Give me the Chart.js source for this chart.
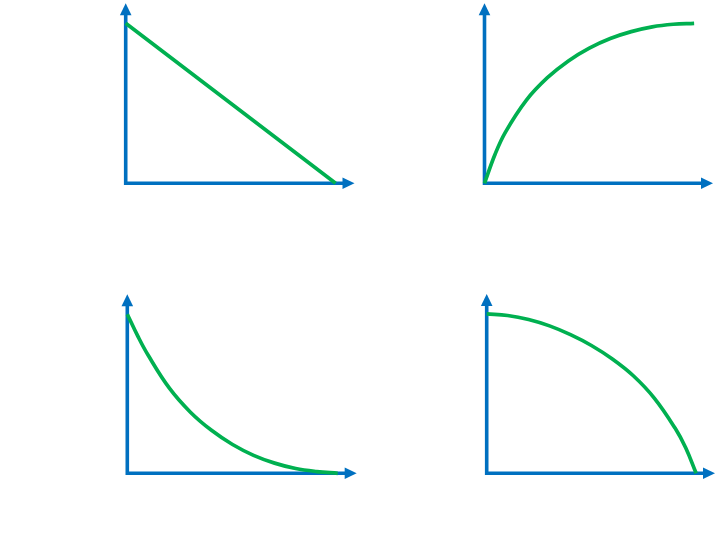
<!DOCTYPE html>
<html>
<head>
<meta charset="utf-8">
<title>Curve shapes</title>
<script src="https://cdn.jsdelivr.net/npm/chart.js@4.4.1/dist/chart.umd.min.js"></script>
<style>
  html, body { margin: 0; padding: 0; background: #ffffff; }
  #wrap { position: relative; width: 720px; height: 540px; }
  #wrap canvas { position: absolute; }
</style>
</head>
<body>
<div id="wrap">
  <canvas id="c1" width="360" height="270" style="left:0;top:0"></canvas>
  <canvas id="c2" width="360" height="270" style="left:360px;top:0"></canvas>
  <canvas id="c3" width="360" height="270" style="left:0;top:270px"></canvas>
  <canvas id="c4" width="360" height="270" style="left:360px;top:270px"></canvas>
</div>
<script>
// values (x and y both 0..1)
const linearX = [0, 1];
const linearY = [1, 0];

const riseX = [0, 0.05, 0.1, 0.2, 0.3, 0.4, 0.5, 0.6, 0.7, 0.8, 0.9, 1];
const riseY = [0, 0.18, 0.32, 0.52, 0.66, 0.765, 0.845, 0.905, 0.948, 0.978, 0.994, 1];

const fallX = [0, 0.05, 0.1, 0.2, 0.3, 0.4, 0.5, 0.6, 0.7, 0.8, 0.9, 1];
const fallY = [1, 0.862, 0.74, 0.535, 0.384, 0.27, 0.181, 0.113, 0.064, 0.03, 0.011, 0];

const dropX = [0, 0.1, 0.2, 0.3, 0.4, 0.5, 0.6, 0.7, 0.8, 0.9, 0.95, 1];
const dropY = [1, 0.99, 0.965, 0.925, 0.87, 0.802, 0.717, 0.612, 0.472, 0.282, 0.16, 0];

const AXIS_BLUE = '#0070C0';
const LINE_GREEN = '#00B050';

// axes with arrowheads, drawn under the curve
const arrowAxes = {
    id: 'arrowAxes',
    beforeDatasetsDraw(chart) {
        const ctx = chart.ctx;
        const xs = chart.scales.x, ys = chart.scales.y;
        const ox = xs.getPixelForValue(0), oy = ys.getPixelForValue(0);
        const xEnd = xs.getPixelForValue(xs.max), yEnd = ys.getPixelForValue(ys.max);
        const lw = 3.6, len = 12, half = 5.8;
        ctx.save();
        ctx.strokeStyle = AXIS_BLUE;
        ctx.fillStyle = AXIS_BLUE;
        ctx.lineWidth = lw;
        ctx.lineCap = 'butt';
        ctx.beginPath();
        ctx.moveTo(ox, oy + lw / 2);
        ctx.lineTo(ox, yEnd + len - 1);
        ctx.moveTo(ox - lw / 2, oy);
        ctx.lineTo(xEnd - len + 1, oy);
        ctx.stroke();
        // y arrow
        ctx.beginPath();
        ctx.moveTo(ox, yEnd);
        ctx.lineTo(ox - half, yEnd + len);
        ctx.lineTo(ox + half, yEnd + len);
        ctx.closePath();
        ctx.fill();
        // x arrow
        ctx.beginPath();
        ctx.moveTo(xEnd, oy);
        ctx.lineTo(xEnd - len, oy - half);
        ctx.lineTo(xEnd - len, oy + half);
        ctx.closePath();
        ctx.fill();
        ctx.restore();
    }
};

function makePanel(id, xs, ys, pad) {
    const pts = xs.map((x, i) => ({ x: x, y: ys[i] }));
    return new Chart(document.getElementById(id), {
        type: 'line',
        data: {
            datasets: [{
                data: pts,
                borderColor: LINE_GREEN,
                borderWidth: 3.7,
                pointRadius: 0,
                tension: 0.4,
                fill: false,
                clip: false
            }]
        },
        options: {
            responsive: false,
            animation: false,
            events: [],
            layout: { padding: pad },
            plugins: { legend: { display: false }, tooltip: { enabled: false } },
            scales: {
                x: { type: 'linear', min: 0, max: 1.09, display: false },
                y: { type: 'linear', min: 0, max: 1.125, display: false }
            }
        },
        plugins: [arrowAxes]
    });
}

makePanel('c1', linearX, linearY, { left: 125.7, right: 5.5, top: 3.3, bottom: 86.7 });
makePanel('c2', riseX, riseY, { left: 124.5, right: 7, top: 3.3, bottom: 86.7 });
makePanel('c3', fallX, fallY, { left: 127.3, right: 3.3, top: 24.3, bottom: 66.7 });
makePanel('c4', dropX, dropY, { left: 126.7, right: 5, top: 24, bottom: 66.7 });
</script>
</body>
</html>
